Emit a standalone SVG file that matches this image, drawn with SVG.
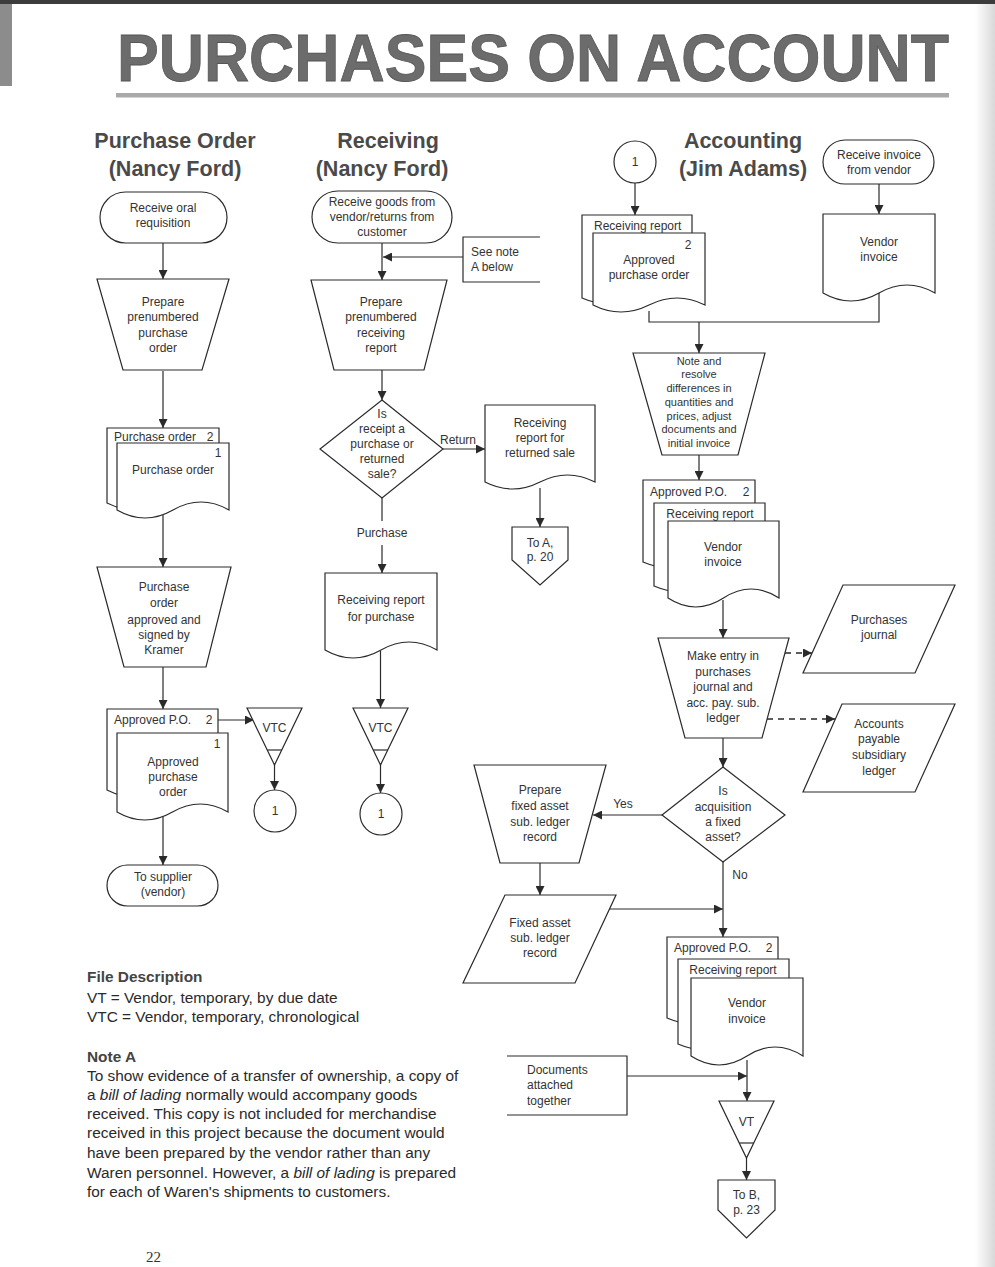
<svg xmlns="http://www.w3.org/2000/svg" width="995" height="1267" viewBox="0 0 995 1267">
<defs>
<marker id="ah" viewBox="0 0 10 10" refX="10" refY="5" markerWidth="9" markerHeight="9" markerUnits="userSpaceOnUse" orient="auto"><path d="M0,0 L10,5 L0,10 z" fill="#2a2a2a"/></marker>
<linearGradient id="edge" x1="0" y1="0" x2="1" y2="0"><stop offset="0" stop-color="#ffffff"/><stop offset="1" stop-color="#d8d8d8"/></linearGradient>
<style>
.s{fill:#fff;stroke:#2a2a2a;stroke-width:1.2}
.c{fill:none;stroke:#2a2a2a;stroke-width:1.2}
.a{fill:none;stroke:#2a2a2a;stroke-width:1.2;marker-end:url(#ah)}
.d{fill:none;stroke:#2a2a2a;stroke-width:1.4;stroke-dasharray:6,5;marker-end:url(#ah)}
text{font-family:"Liberation Sans",Arial,sans-serif;fill:#333}
.t{font-size:12px;text-anchor:middle}
.ts{font-size:11px;text-anchor:middle}
.tl{font-size:12px}
.h{font-size:21.5px;font-weight:bold;text-anchor:middle;fill:#4a4a4a}
.n{font-size:15.4px;fill:#2a2a2a}
.nb{font-size:15.4px;font-weight:bold;fill:#444}
</style>
</defs>
<rect x="0" y="0" width="995" height="1267" fill="#fff"/>
<rect x="975" y="0" width="20" height="1267" fill="url(#edge)"/>
<rect x="0" y="0" width="995" height="4" fill="#3c3c3c"/>
<rect x="0" y="4" width="12" height="82" fill="#8c8c8c"/>

<g id="title">
<text x="117" y="81" font-size="66" font-weight="bold" textLength="832" lengthAdjust="spacingAndGlyphs" style="fill:#6c6c6c;stroke:#555;stroke-width:0.8">PURCHASES ON ACCOUNT</text>
<rect x="116" y="93" width="833" height="4.5" fill="#a9a9a9"/>
</g>

<g id="headers">
<text class="h" x="175" y="148">Purchase Order</text>
<text class="h" x="175" y="176">(Nancy Ford)</text>
<text class="h" x="388" y="148">Receiving</text>
<text class="h" x="382" y="176">(Nancy Ford)</text>
<text class="h" x="743" y="148">Accounting</text>
<text class="h" x="743" y="176">(Jim Adams)</text>
</g>

<g id="connectors">
<line class="a" x1="163" y1="243" x2="163" y2="279"/>
<line class="a" x1="163" y1="371" x2="163" y2="428"/>
<line class="a" x1="163" y1="515" x2="163" y2="567"/>
<line class="a" x1="163" y1="667" x2="163" y2="709"/>
<line class="a" x1="218" y1="720" x2="254" y2="720"/>
<line class="a" x1="274.5" y1="765" x2="274.5" y2="790"/>
<line class="a" x1="163" y1="816" x2="163" y2="865"/>
<line class="a" x1="382" y1="243" x2="382" y2="280"/>
<line class="a" x1="463" y1="257" x2="383" y2="257"/>
<line class="a" x1="382" y1="370" x2="382" y2="400"/>
<line class="a" x1="443" y1="449" x2="485" y2="449"/>
<line class="a" x1="540" y1="488" x2="540" y2="527"/>
<line class="c" x1="382" y1="498" x2="382" y2="521"/>
<line class="a" x1="382" y1="545" x2="382" y2="573"/>
<line class="a" x1="380.5" y1="651" x2="380.5" y2="708"/>
<line class="a" x1="380.5" y1="765" x2="380.5" y2="793"/>
<line class="a" x1="635" y1="183" x2="635" y2="215"/>
<line class="a" x1="879" y1="184" x2="879" y2="214"/>
<polyline class="c" points="649,311 649,322 879,322 879,293"/>
<line class="a" x1="699" y1="322" x2="699" y2="353"/>
<line class="a" x1="699" y1="455" x2="699" y2="480"/>
<line class="a" x1="723" y1="600" x2="723" y2="638"/>
<line class="d" x1="785" y1="653" x2="812" y2="653"/>
<line class="d" x1="767" y1="719" x2="835" y2="719"/>
<line class="a" x1="723" y1="738" x2="723" y2="767"/>
<line class="a" x1="662" y1="815" x2="593" y2="815"/>
<line class="a" x1="540" y1="863" x2="540" y2="895"/>
<line class="a" x1="609" y1="909" x2="723" y2="909"/>
<line class="a" x1="723" y1="862" x2="723" y2="937"/>
<line class="a" x1="747" y1="1060" x2="747" y2="1101"/>
<line class="a" x1="627" y1="1076" x2="747" y2="1076"/>
<line class="a" x1="746.5" y1="1158" x2="746.5" y2="1180"/>
<text class="tl" x="440" y="444">Return</text>
<text class="t" x="382" y="537">Purchase</text>
<text class="t" x="623" y="808">Yes</text>
<text class="t" x="740" y="879">No</text>
</g>

<g id="receive-oral-requisition">
<rect class="s" x="100" y="192" width="127" height="51" rx="25.5"/>
<text class="t" x="163" y="212">Receive oral</text>
<text class="t" x="163" y="227">requisition</text>
</g>

<g id="prepare-po">
<polygon class="s" points="97,279 229,279 202,370 123,370"/>
<text class="t" x="163" y="306">Prepare</text>
<text class="t" x="163" y="321">prenumbered</text>
<text class="t" x="163" y="337">purchase</text>
<text class="t" x="163" y="352">order</text>
</g>

<g id="purchase-order-docs">
<path class="s" d="M107,428 H219 V503 Q191,489 163,503 Q135,517 107,503 Z"/>
<text class="tl" x="114" y="441">Purchase order</text>
<text class="t" x="210" y="441">2</text>
<path class="s" d="M117,443 H229 V510 Q201,494 173,510 Q145,526 117,510 Z"/>
<text class="t" x="218" y="457">1</text>
<text class="t" x="173" y="474">Purchase order</text>
</g>

<g id="po-approved">
<polygon class="s" points="97,567 231,567 206,667 124,667"/>
<text class="t" x="164" y="591">Purchase</text>
<text class="t" x="164" y="607">order</text>
<text class="t" x="164" y="624">approved and</text>
<text class="t" x="164" y="639">signed by</text>
<text class="t" x="164" y="654">Kramer</text>
</g>

<g id="approved-po-docs">
<path class="s" d="M107,709 H218 V790 Q190.25,776 162.5,790 Q134.75,804 107,790 Z"/>
<text class="tl" x="114" y="724">Approved P.O.</text>
<text class="t" x="209" y="724">2</text>
<path class="s" d="M117,733 H228 V812 Q200.25,796 172.5,812 Q144.75,828 117,812 Z"/>
<text class="t" x="217" y="748">1</text>
<text class="t" x="173" y="766">Approved</text>
<text class="t" x="173" y="781">purchase</text>
<text class="t" x="173" y="796">order</text>
</g>

<g id="vtc-left">
<polygon class="s" points="247,708 302,708 274.5,765"/>
<line class="c" x1="267.3" y1="750" x2="281.7" y2="750"/>
<text class="t" x="274.5" y="732">VTC</text>
</g>
<g id="conn-1-left">
<circle class="s" cx="275" cy="811" r="21"/>
<text class="t" x="275" y="815">1</text>
</g>

<g id="to-supplier">
<rect class="s" x="107" y="865" width="111" height="41" rx="20.5"/>
<text class="t" x="163" y="881">To supplier</text>
<text class="t" x="163" y="896">(vendor)</text>
</g>

<g id="receive-goods">
<rect class="s" x="312" y="191" width="140" height="52" rx="26"/>
<text class="t" x="382" y="206">Receive goods from</text>
<text class="t" x="382" y="221">vendor/returns from</text>
<text class="t" x="382" y="236">customer</text>
</g>

<g id="see-note-a">
<path class="c" d="M540,237 H463 V282 H540"/>
<text class="tl" x="471" y="256">See note</text>
<text class="tl" x="471" y="271">A below</text>
</g>

<g id="prepare-rr">
<polygon class="s" points="311,280 447,280 424,370 334,370"/>
<text class="t" x="381" y="306">Prepare</text>
<text class="t" x="381" y="321">prenumbered</text>
<text class="t" x="381" y="337">receiving</text>
<text class="t" x="381" y="352">report</text>
</g>

<g id="decision-receipt">
<polygon class="s" points="382,400 443,449 382,498 320,449"/>
<text class="t" x="382" y="418">Is</text>
<text class="t" x="382" y="433">receipt a</text>
<text class="t" x="382" y="448">purchase or</text>
<text class="t" x="382" y="463">returned</text>
<text class="t" x="382" y="478">sale?</text>
</g>

<g id="rr-returned-sale">
<path class="s" d="M485,405 H595 V482 Q567.5,468 540,482 Q512.5,496 485,482 Z"/>
<text class="t" x="540" y="427">Receiving</text>
<text class="t" x="540" y="442">report for</text>
<text class="t" x="540" y="457">returned sale</text>
</g>

<g id="to-a-p20">
<polygon class="s" points="512,527 568,527 568,560 540,585 512,560"/>
<text class="t" x="540" y="547">To A,</text>
<text class="t" x="540" y="561">p. 20</text>
</g>

<g id="rr-purchase">
<path class="s" d="M325,573 H437 V650 Q409,634 381,650 Q353,666 325,650 Z"/>
<text class="t" x="381" y="604">Receiving report</text>
<text class="t" x="381" y="621">for purchase</text>
</g>

<g id="vtc-mid">
<polygon class="s" points="353,708 408,708 380.5,765"/>
<line class="c" x1="373.3" y1="750" x2="387.7" y2="750"/>
<text class="t" x="380.5" y="732">VTC</text>
</g>
<g id="conn-1-mid">
<circle class="s" cx="381" cy="814" r="21"/>
<text class="t" x="381" y="818">1</text>
</g>

<g id="conn-1-right">
<circle class="s" cx="635" cy="162" r="21"/>
<text class="t" x="635" y="166">1</text>
</g>

<g id="receive-invoice">
<rect class="s" x="823" y="140" width="111" height="44" rx="22"/>
<text class="t" x="879" y="159">Receive invoice</text>
<text class="t" x="879" y="174">from vendor</text>
</g>

<g id="rr-po-docs">
<path class="s" d="M582,215 H692 V298 Q664.5,286 637,298 Q609.5,310 582,298 Z"/>
<text class="tl" x="594" y="230">Receiving report</text>
<path class="s" d="M593,233 H705 V305 Q677,291 649,305 Q621,319 593,305 Z"/>
<text class="t" x="688" y="249">2</text>
<text class="t" x="649" y="264">Approved</text>
<text class="t" x="649" y="279">purchase order</text>
</g>

<g id="vendor-invoice-1">
<path class="s" d="M823,214 H935 V293 Q907,277 879,293 Q851,309 823,293 Z"/>
<text class="t" x="879" y="246">Vendor</text>
<text class="t" x="879" y="261">invoice</text>
</g>

<g id="resolve-differences">
<polygon class="s" points="633,353 765,353 738,455 662,455"/>
<text class="ts" x="699" y="365">Note and</text>
<text class="ts" x="699" y="378">resolve</text>
<text class="ts" x="699" y="392">differences in</text>
<text class="ts" x="699" y="406">quantities and</text>
<text class="ts" x="699" y="420">prices, adjust</text>
<text class="ts" x="699" y="433">documents and</text>
<text class="ts" x="699" y="447">initial invoice</text>
</g>

<g id="docs-stack-3">
<path class="s" d="M643,480 H755 V562 Q727,550 699,562 Q671,574 643,562 Z"/>
<text class="tl" x="650" y="496">Approved P.O.</text>
<text class="t" x="746" y="496">2</text>
<path class="s" d="M654,503 H765 V586 Q737.25,574 709.5,586 Q681.75,598 654,586 Z"/>
<text class="t" x="710" y="518">Receiving report</text>
<path class="s" d="M668,521 H779 V598 Q751.25,580 723.5,598 Q695.75,616 668,598 Z"/>
<text class="t" x="723" y="551">Vendor</text>
<text class="t" x="723" y="566">invoice</text>
</g>

<g id="make-entry">
<polygon class="s" points="658,638 789,638 762,738 685,738"/>
<text class="t" x="723" y="660">Make entry in</text>
<text class="t" x="723" y="676">purchases</text>
<text class="t" x="723" y="691">journal and</text>
<text class="t" x="723" y="707">acc. pay. sub.</text>
<text class="t" x="723" y="722">ledger</text>
</g>

<g id="purchases-journal">
<polygon class="s" points="843,585 955,585 915,673 803,673"/>
<text class="t" x="879" y="624">Purchases</text>
<text class="t" x="879" y="639">journal</text>
</g>

<g id="ap-ledger">
<polygon class="s" points="842,704 955,704 915,792 803,792"/>
<text class="t" x="879" y="728">Accounts</text>
<text class="t" x="879" y="743">payable</text>
<text class="t" x="879" y="759">subsidiary</text>
<text class="t" x="879" y="775">ledger</text>
</g>

<g id="decision-fixed-asset">
<polygon class="s" points="723,767 785,815 723,862 662,815"/>
<text class="t" x="723" y="795">Is</text>
<text class="t" x="723" y="811">acquisition</text>
<text class="t" x="723" y="826">a fixed</text>
<text class="t" x="723" y="841">asset?</text>
</g>

<g id="prepare-fa">
<polygon class="s" points="474,765 606,765 579,863 500,863"/>
<text class="t" x="540" y="794">Prepare</text>
<text class="t" x="540" y="810">fixed asset</text>
<text class="t" x="540" y="826">sub. ledger</text>
<text class="t" x="540" y="841">record</text>
</g>

<g id="fa-record">
<polygon class="s" points="505,895 616,895 575,983 463,983"/>
<text class="t" x="540" y="927">Fixed asset</text>
<text class="t" x="540" y="942">sub. ledger</text>
<text class="t" x="540" y="957">record</text>
</g>

<g id="docs-stack-4">
<path class="s" d="M667,937 H778 V1018 Q750.25,1006 722.5,1018 Q694.75,1030 667,1018 Z"/>
<text class="tl" x="674" y="952">Approved P.O.</text>
<text class="t" x="769" y="952">2</text>
<path class="s" d="M678,959 H789 V1044 Q761.25,1032 733.5,1044 Q705.75,1056 678,1044 Z"/>
<text class="t" x="733" y="974">Receiving report</text>
<path class="s" d="M691,978 H803 V1056 Q775,1038 747,1056 Q719,1074 691,1056 Z"/>
<text class="t" x="747" y="1007">Vendor</text>
<text class="t" x="747" y="1023">invoice</text>
</g>

<g id="documents-attached">
<path class="c" d="M507,1056 H627 V1115 H507"/>
<text class="tl" x="527" y="1074">Documents</text>
<text class="tl" x="527" y="1089">attached</text>
<text class="tl" x="527" y="1105">together</text>
</g>

<g id="vt">
<polygon class="s" points="719,1101 774,1101 746.5,1158"/>
<line class="c" x1="739.3" y1="1143" x2="753.7" y2="1143"/>
<text class="t" x="746.5" y="1126">VT</text>
</g>

<g id="to-b-p23">
<polygon class="s" points="718,1180 775,1180 775,1210 746.5,1238 718,1210"/>
<text class="t" x="746.5" y="1199">To B,</text>
<text class="t" x="746.5" y="1214">p. 23</text>
</g>

<g id="notes">
<text class="nb" x="87" y="982">File Description</text>
<text class="n" x="87" y="1003">VT = Vendor, temporary, by due date</text>
<text class="n" x="87" y="1022">VTC = Vendor, temporary, chronological</text>
<text class="nb" x="87" y="1062">Note A</text>
<text class="n" x="87" y="1081">To show evidence of a transfer of ownership, a copy of</text>
<text class="n" x="87" y="1100">a <tspan font-style="italic">bill of lading</tspan> normally would accompany goods</text>
<text class="n" x="87" y="1119">received. This copy is not included for merchandise</text>
<text class="n" x="87" y="1138">received in this project because the document would</text>
<text class="n" x="87" y="1158">have been prepared by the vendor rather than any</text>
<text class="n" x="87" y="1178">Waren personnel. However, a <tspan font-style="italic">bill of lading</tspan> is prepared</text>
<text class="n" x="87" y="1197">for each of Waren's shipments to customers.</text>
<text x="146" y="1262" style="font-family:'Liberation Serif',serif;font-size:15px;fill:#333">22</text>
</g>
</svg>
